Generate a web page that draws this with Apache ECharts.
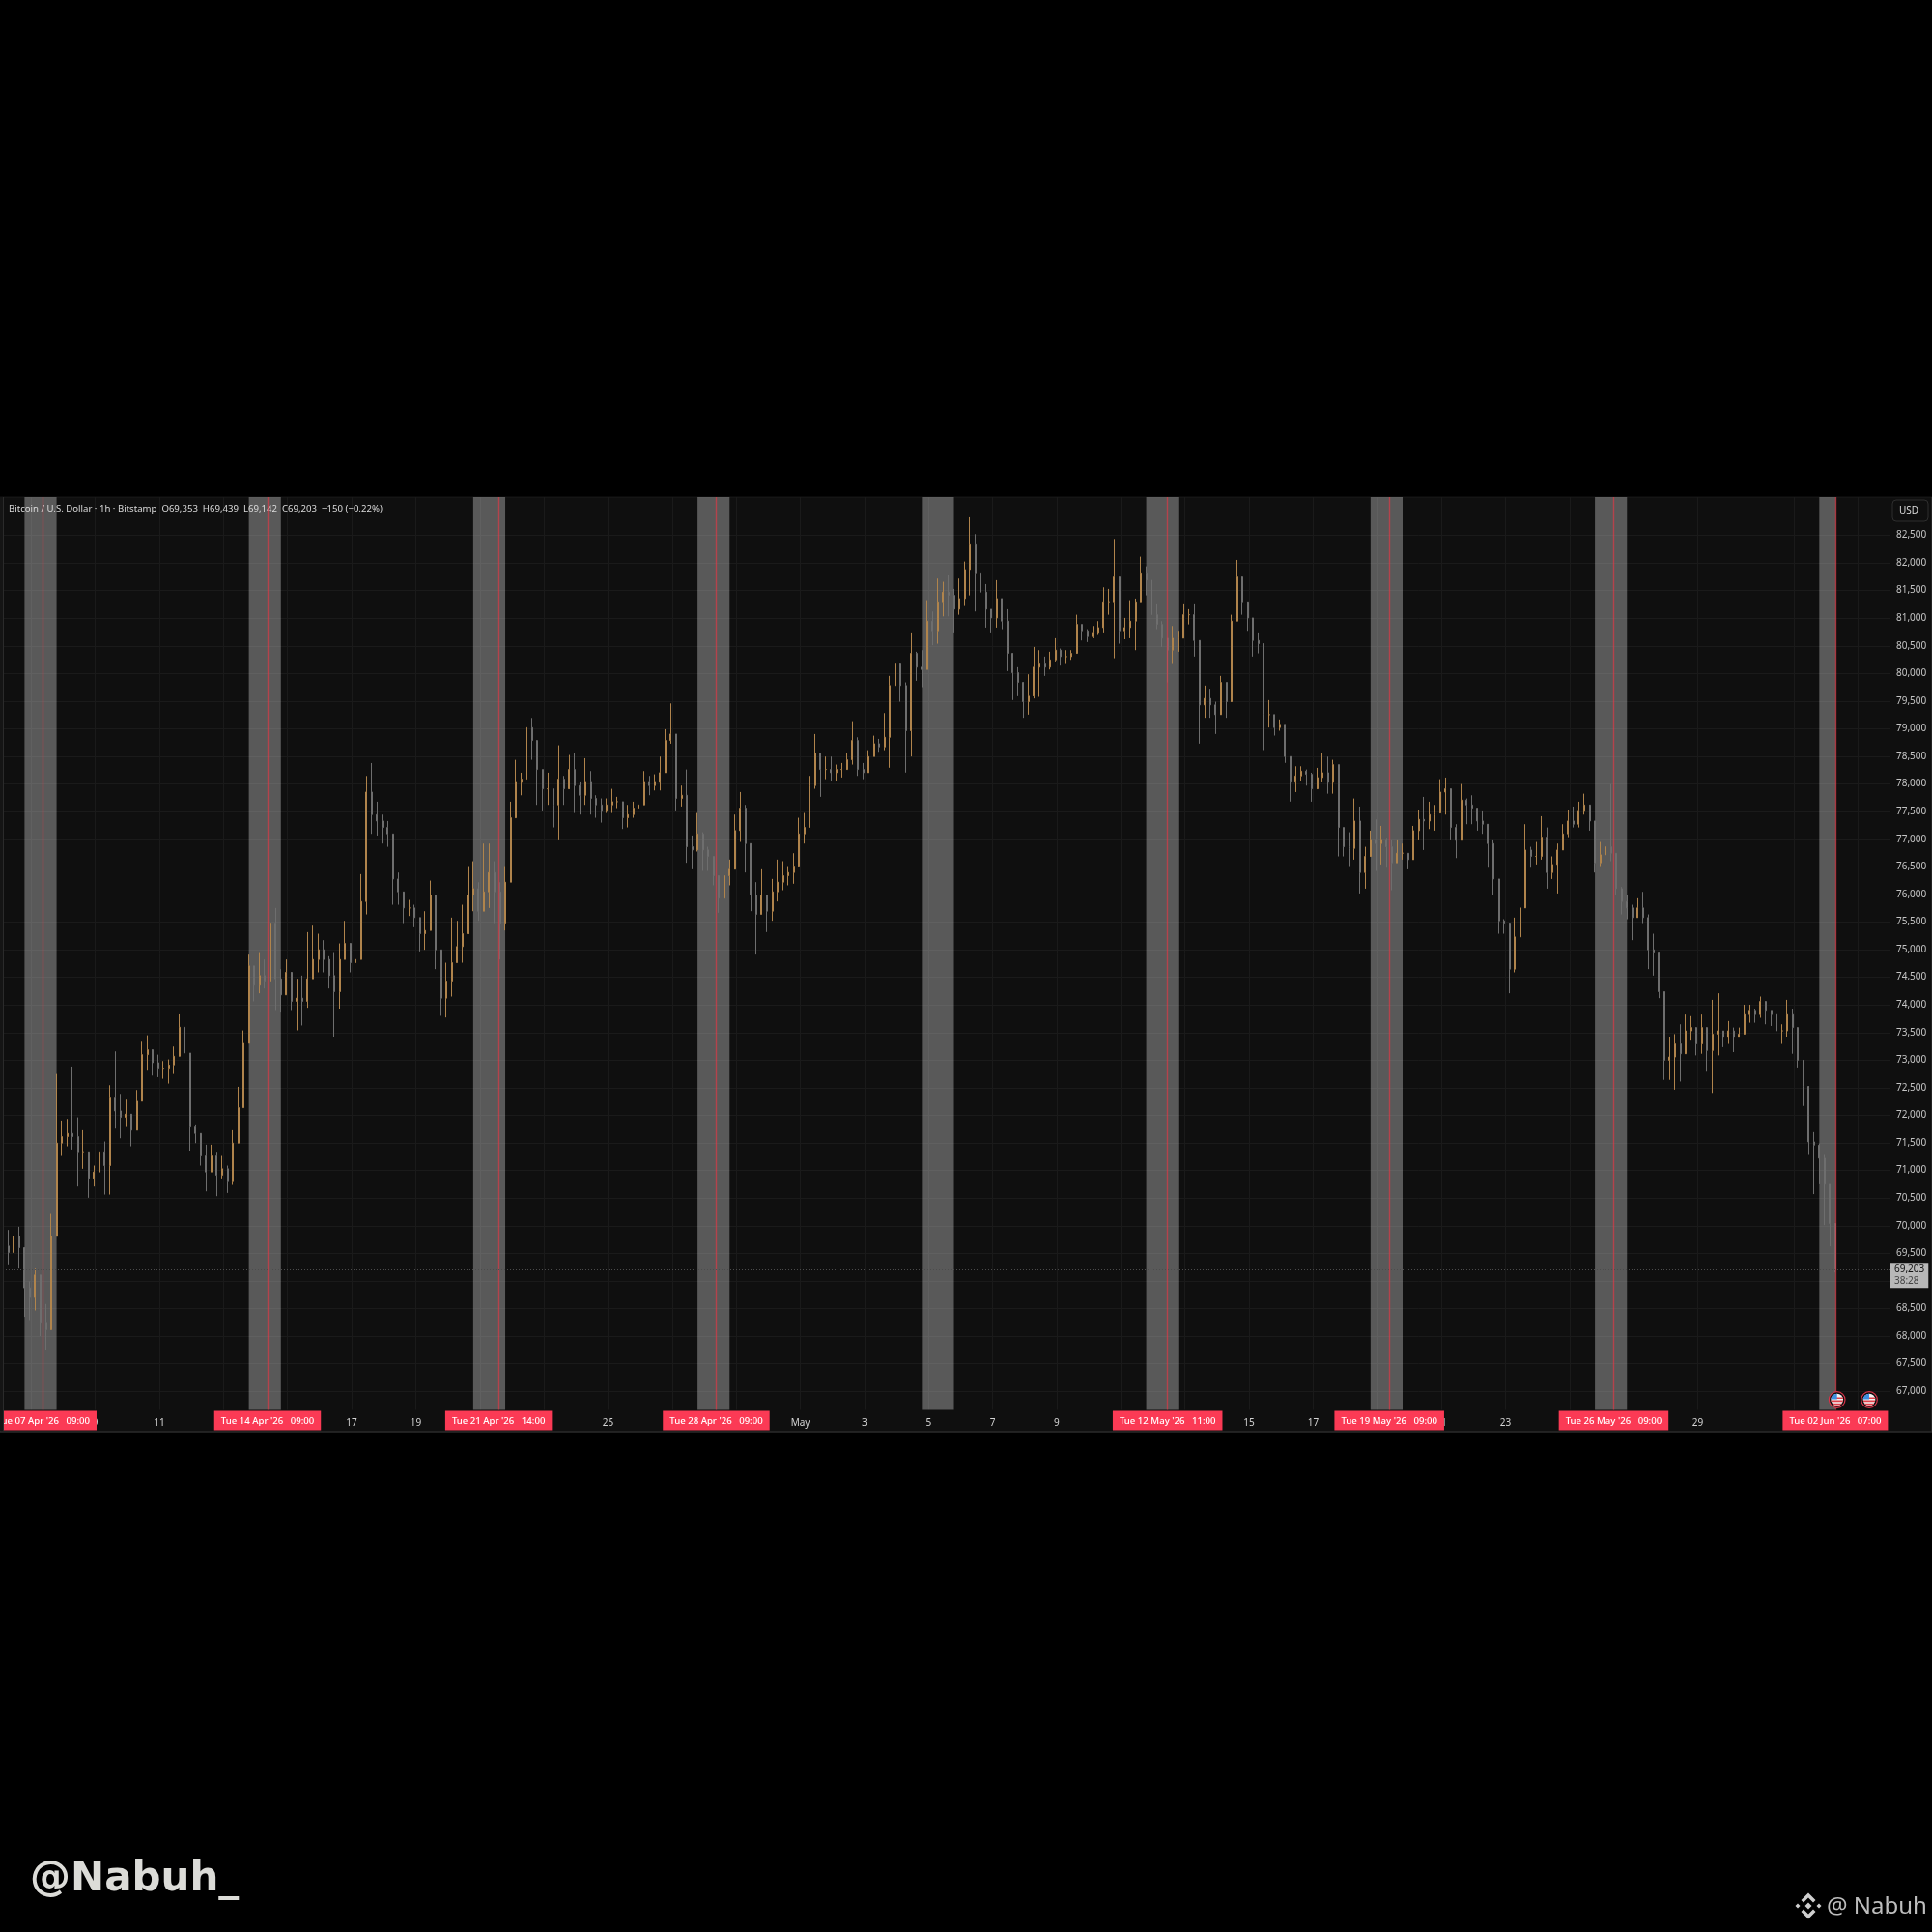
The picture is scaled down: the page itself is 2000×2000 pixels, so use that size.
<!DOCTYPE html>
<html><head><meta charset="utf-8">
<style>html,body{margin:0;background:#000}#c{width:2000px;height:2000px}</style>
<script src="https://cdn.jsdelivr.net/npm/echarts@6/dist/echarts.min.js"></script>
</head><body><div id="c"></div>
<script>
const firstOpen = 69300;
const firstBarHour = 123;   // hours since 1 Apr 00:00; 6 Apr 03:00
const barStepHours = 4;
const highs = [
70273,69923,70360,69981,69573,68990,69223,68640,68582,70214,72750,71905,71934,72867,71963,71730,71206,71089,71555,71526,
72546,73159,72371,72284,71847,72459,73333,73450,73129,73100,72984,73013,73246,73829,73596,73129,71818,71555,71468,71468,
71322,71264,71089,71730,72517,73538,
74910,74590,74939,74823,76135,75756,74648,74823,74473,74473,74531,75318,75435,75289,75173,74881,74939,75114,75522,75056,
75114,76368,78146,78379,77680,77446,77330,77097,76397,75989,75901,75814,75522,75697,76251,75522,74764,74764,75581,75522,
75814,76514,76601,76222,76922,76922,76601,76222,76514,77680,78437,78204,
79488,79196,78642,78263,78205,77913,78701,78147,78526,78555,78030,78467,78234,77797,77739,77739,77913,77768,77505,77622,
77680,77797,78234,78147,78176,78497,78992,79458,78905,77972,78263,77068,77476,77126,76864,76689,76223,76485,76631,77447,
77855,77622,76456,76223,76456,75990,76281,76631,76602,76514,76747,77389,77476,78147,78905,78555,78497,78497,78351,78380,
78555,79138,78846,78380,78613,78875,78817,79284,
79956,80626,80072,79839,80743,80393,80422,81326,81122,81734,81676,81792,81530,81734,82025,82842,82521,81705,81617,81180,
81705,81209,81180,80276,80131,79752,79985,80480,80422,80306,80393,80655,80451,80422,80422,81063,80888,80801,80859,80947,
81559,81530,82433,81734,81005,81326,81355,82113,81938,81297,81268,80947,80655,80859,80772,81268,81180,81268,80306,79781,
79723,79489,79956,79839,81063,82054,81617,81180,80976,80743,80422,79518,79169,79169,79023,78498,78321,
78321,78263,78204,78292,78554,78496,78438,78350,77213,77126,77738,77592,76863,77155,77359,77242,77009,76980,76980,76922,
76747,77242,77534,77767,77680,77621,78088,78117,77534,77272,78000,77738,77796,77475,77505,77184,76980,75989,75552,75318,
75581,75931,77272,76863,76951,77417,77213,76689,76922,77272,77534,77592,77680,77825,77446,77038,76951,77534,78000,76747,
76135,75989,75814,75931,76047,75639,75289,74648,74240,
73412,73471,73649,73826,73797,73412,73826,73530,74092,74211,73530,73708,73590,73590,74004,74004,73915,74152,74004,73885,
73885,73649,74092,73915,73264,72820,72170,71696,71489,71282,70750,69626
];
const lows = [
69078,69282,69165,69223,68349,68290,68465,67999,67737,68349,69865,71264,71439,71380,70710,71031,70506,70710,71031,70564,
70564,71759,71584,71788,71439,71905,72430,72809,72721,72692,72663,72576,72750,73246,72896,71351,71497,71089,70622,70972,
70535,70856,70593,70739,71701,72138,
73365,74065,74211,74298,74590,73890,73861,74182,73890,73540,73628,73948,74473,74590,74590,74298,73424,73919,74823,74590,
74590,75114,75639,77097,77067,76922,76863,75814,75814,75464,75610,75406,74969,74998,75522,74648,73803,73773,74152,74764,
74764,75522,75697,75522,75697,75756,75464,74823,75348,76222,77446,77796,
78671,78438,77622,77505,77622,77214,76981,77622,77972,77476,77447,77622,77447,77389,77301,77476,77476,77564,77185,77214,
77389,77389,77855,77797,77884,77884,78263,78730,77505,77593,76573,76456,76777,76427,76427,76165,75669,75873,76165,76893,
76952,76398,75698,74911,75640,75319,75523,75873,76077,76165,76194,76543,76922,77214,77914,77768,78088,78059,78059,78118,
78322,78351,78147,78088,78205,78497,78584,78613,
78294,79489,79489,78207,78498,79868,79752,80072,80510,80539,81034,81034,80743,81063,81238,81413,81122,81180,80830,80743,
80830,80801,80043,79519,79606,79198,79256,79548,79577,79956,80072,80218,80160,80189,80247,80539,80597,80568,80655,80714,
80743,81063,80276,80539,80626,80655,80422,81413,81413,80684,80801,80480,79839,80189,80393,80655,80888,80306,78731,79198,
79198,78906,79285,79198,79548,81122,81063,80772,80306,80364,78615,79023,78877,78965,78382,77682,77854,
78059,77971,77680,77971,78029,77825,77825,76689,76689,76514,76630,76018,76105,76718,76426,76543,76484,76076,76572,76630,
76455,76689,76980,76805,77184,77155,77563,77446,76980,76659,77067,77272,77272,77155,77097,76484,75989,75289,75289,74211,
74590,75289,75872,76484,76543,76630,76105,76280,76018,76834,77038,77213,77213,77446,77155,76397,76514,76484,76601,75989,
75639,75552,75173,75610,75464,74648,74531,74123,72643,
72643,72465,72613,73146,73353,73087,73116,72791,72406,73087,73235,73294,73146,73412,73530,73678,73678,73767,73649,73619,
73353,73294,73412,73116,72850,72170,71282,70572,70750,70010,69626,69152
];
const closes = [
69631,69515,69806,69602,68874,68699,69107,68232,68116,69806,71497,71614,71672,71614,71322,71322,70856,70972,71322,71089,
72313,72080,71963,72022,71730,72255,73100,73188,72954,72838,72838,72896,73071,73596,73129,71788,71672,71264,70972,71264,
70914,71031,70797,71497,72138,73304,
74706,74356,74531,74415,75464,74473,74182,74590,74065,74123,74065,74473,74823,75000,74823,74531,74240,74823,75114,74764,
74823,75872,77854,77446,77330,77213,77097,76280,76047,75756,75756,75581,75289,75348,75989,74998,74123,74415,74764,75056,
75289,75989,76105,75697,76047,76397,76047,75464,76222,77388,78029,78088,
79021,78788,78263,77913,77913,77622,78088,77913,78263,77972,77797,78030,77739,77622,77505,77622,77680,77680,77389,77447,
77564,77622,78030,77972,78030,78205,78788,78905,77739,77797,76864,76806,77097,76806,76689,76339,75931,76339,76456,77156,
77564,76922,75990,75640,75990,75698,76048,76223,76339,76398,76514,77097,77214,77972,78555,78263,78263,78205,78263,78263,
78438,78788,78263,78205,78497,78730,78671,78846,
79781,80189,79781,78965,80364,80131,80072,80947,80772,81297,81471,81413,81180,81355,81880,82346,81821,81471,81180,81005,
81355,80947,80364,80014,79839,79489,79606,80131,80189,80131,80247,80422,80305,80305,80364,80888,80772,80684,80743,80830,
81297,81297,81763,80772,80830,80947,81297,81821,81705,81063,80888,80655,80422,80655,80655,81063,81063,80597,79431,79548,
79431,79256,79839,79489,80947,81763,81297,81005,80597,80539,79256,79256,79023,79081,78498,78032,78146,
78233,78175,77913,78117,78204,78029,78350,77213,76863,76834,77330,76397,76689,76980,76922,76980,76863,76572,76747,76747,
76630,77155,77359,77330,77446,77475,77854,77913,77213,76980,77709,77621,77563,77330,77272,76922,76280,75522,75464,74648,
75231,75756,76805,76689,76689,77038,76397,76543,76805,77097,77330,77272,77505,77621,77330,76572,76718,76863,76747,76105,
75872,75756,75581,75756,75581,74998,74939,74240,72998,
73057,73294,73116,73530,73590,73294,73590,73175,73471,73530,73412,73530,73412,73471,73826,73885,73826,74063,73885,73826,
73530,73530,73826,73590,72998,72525,71519,71460,71223,70750,70040,69203
];
const priceTicks = [67000,67500,68000,68500,69000,69500,70000,70500,71000,71500,72000,72500,73000,73500,74000,74500,75000,75500,76000,76500,77000,77500,78000,78500,79000,79500,80000,80500,81000,81500,82000,82500];
const timeTickHours = [144,192,240,288,336,384,432,480,528,576,624,672,720,768,816,864,912,960,1008,1056,1104,1152,1200,1248,1296,1344,1392,1464,1512];
const timeTickLabels = ['7','9','11','13','15','17','19','21','23','25','27','29','May','3','5','7','9','11','13','15','17','19','21','23','25','27','29','Jun','3'];
const bandStarts = [139,307,475,643,811,979,1147,1315,1483];
const bandEnds   = [163,331,499,667,835,1003,1171,1339,1495.5];
const eventHours = [153,321,494,657,995,1161,1329,1495];
const eventLabels = ["Tue 07 Apr '26   09:00","Tue 14 Apr '26   09:00","Tue 21 Apr '26   14:00","Tue 28 Apr '26   09:00","Tue 12 May '26   11:00","Tue 19 May '26   09:00","Tue 26 May '26   09:00","Tue 02 Jun '26   07:00"];
const flagHours = [1496.3,1520.4];
const lastPrice = 69203;
const lastPriceTagAnchor = 69098;
const header = "Bitcoin / U.S. Dollar · 1h · Bitstamp  O69,353  H69,439  L69,142  C69,203  −150 (−0.22%)";
const FONT = '"Noto Sans"';

let prev = firstOpen;
const candles = closes.map((c,i)=>{
  const row=[firstBarHour+i*barStepHours,prev,c,lows[i],highs[i]];
  prev=c; return row;
});
const tickLabelOf = {}; timeTickHours.forEach((h,i)=>tickLabelOf[h]=timeTickLabels[i]);

const chart = echarts.init(document.getElementById('c'),null,{renderer:'canvas',width:2000,height:2000});
const GRID='#1a1a1a';
chart.setOption({
  animation:false,
  backgroundColor:'#000',
  title:{text:header,left:9,top:522.5,z:1,padding:0,textStyle:{color:'#dadada',fontSize:9.6,fontWeight:'normal',fontFamily:FONT}},
  grid:{left:3,top:515,width:1954,height:944.5,containLabel:false},
  xAxis:{type:'value',min:122.8,max:1536.3,
    axisLine:{show:false},
    axisTick:{show:false,customValues:timeTickHours},
    splitLine:{show:true,lineStyle:{color:GRID,width:1}},
    axisLabel:{customValues:timeTickHours,margin:8.5,color:'#d4d4d4',fontSize:10,fontFamily:FONT,hideOverlap:false,
      formatter:v=>tickLabelOf[v]||''}},
  yAxis:{type:'value',position:'right',min:66662,max:83191,scale:true,
    axisLine:{show:false},
    axisTick:{show:false,customValues:priceTicks},
    splitLine:{show:true,lineStyle:{color:GRID,width:1}},
    axisLabel:{customValues:priceTicks,margin:6,padding:[4,0,0,0],color:'#c4c4c4',fontSize:10,fontFamily:FONT,
      formatter:v=>v.toLocaleString('en-US')}},
  series:[
    {type:'candlestick',name:'BTCUSD',z:2,barWidth:1.5,data:candles,encode:{x:0,y:[1,2,3,4]},
      itemStyle:{color:'#b0844c',color0:'#6e6e6e',borderColor:'#b0844c',borderColor0:'#6e6e6e',borderWidth:1}},
    {type:'line',name:'sessions',z:5,data:[],silent:true,
      markArea:{silent:true,itemStyle:{color:'rgba(255,255,255,0.31)'},
        data:bandStarts.map((s,i)=>[{xAxis:s},{xAxis:bandEnds[i]}])}},
    {type:'line',name:'events',z:6,data:[],silent:true,
      markLine:{silent:true,symbol:'none',animation:false,precision:2,
        lineStyle:{color:'rgba(242,54,69,0.6)',width:1.4,type:'solid'},
        label:{show:true,position:'start',distance:1,formatter:p=>p.name,color:'#fff',fontSize:9.6,fontWeight:500,fontFamily:FONT,
          backgroundColor:'#fb3a55',padding:[6,7,4,7]},
        data:eventHours.map((h,i)=>({xAxis:h,name:eventLabels[i]}))}},
    {type:'line',name:'last',z:6,data:[],silent:true,
      markLine:{silent:true,symbol:'none',animation:false,precision:0,
        lineStyle:{color:'#4c4c4c',width:1,type:[1,2]},
        label:{show:false},
        data:[{yAxis:lastPrice}]}},
    {type:'line',name:'lastTag',z:8,data:[],silent:true,
      markLine:{silent:true,symbol:'none',animation:false,precision:0,
        lineStyle:{color:'rgba(0,0,0,0)',width:1},
        label:{show:true,position:'end',distance:0,formatter:'{a|69,203}\n{b|38:28}',backgroundColor:'#b8b8b8',padding:[1,4,1,4],
            rich:{a:{color:'#111',fontSize:10,lineHeight:12,fontFamily:FONT},b:{color:'#444',fontSize:10,lineHeight:12,fontFamily:FONT}}},
        data:[{yAxis:lastPriceTagAnchor}]}},
    {type:'custom',name:'flags',z:7,silent:true,clip:false,
      data:flagHours.map(h=>[h,66846]),encode:{x:0,y:1},
      renderItem:(params,api)=>{
        const [cx,cy]=api.coord([api.value(0),api.value(1)]);
        const clip={type:'circle',shape:{cx,cy,r:6.3}};
        const stripes=[-2.6,0.6,3.8].map(dy=>({type:'rect',shape:{x:cx-7,y:cy+dy,width:14,height:1.6},style:{fill:'#e0404a'},clipPath:clip}));
        return {type:'group',children:[
          {type:'circle',shape:{cx,cy,r:8.3},style:{fill:'#0f0f0f',stroke:'#d9344a',lineWidth:1.2}},
          {type:'circle',shape:{cx,cy,r:6.3},style:{fill:'#f2f2f2'}},
          ...stripes,
          {type:'rect',shape:{x:cx-7,y:cy-7,width:7,height:6.6},style:{fill:'#3d8fe0'},clipPath:clip}
        ]};
      }}
  ],
  graphic:{elements:[
    {type:'rect',z:-10,zlevel:0,silent:true,shape:{x:0,y:514.5,width:2000,height:967.5},style:{fill:'#0f0f0f',stroke:'#2b2b2b',lineWidth:1.5}},
    {type:'rect',z:50,silent:true,shape:{x:0,y:515,width:3,height:966},style:{fill:'#151515'}},
    {type:'rect',z:51,silent:true,shape:{x:3,y:515,width:1,height:966},style:{fill:'#2b2b2b'}},
    {type:'rect',z:50,silent:true,shape:{x:1959,y:518,width:37,height:21,r:4},style:{fill:'#0f0f0f',stroke:'#2e2e2e',lineWidth:1}},
    {type:'text',z:51,silent:true,style:{x:1976,y:529.5,text:'USD',fill:'#dcdcdc',font:'10px "Noto Sans"',textAlign:'center',textVerticalAlign:'middle'}},
    {type:'text',z:51,silent:true,style:{x:31,y:1946,text:'@Nabuh_',fill:'#dcdcd8',font:'bold 42px "DejaVu Sans"',textAlign:'left',textVerticalAlign:'middle'}},
    {type:'text',z:51,silent:true,style:{x:1891,y:1974,text:'@ Nabuh',fill:'#bdbdbd',font:'24px "Noto Sans"',textAlign:'left',textVerticalAlign:'middle'}},
    {type:'group',z:51,silent:true,x:1872,y:1973,children:[
      {type:'polygon',shape:{points:[[0,-3.5],[3.5,0],[0,3.5],[-3.5,0]]},style:{fill:'#cfcfcf'}},
      {type:'polygon',shape:{points:[[-13.5,0],[-11,-2.5],[-8.5,0],[-11,2.5]]},style:{fill:'#cfcfcf'}},
      {type:'polygon',shape:{points:[[13.5,0],[11,-2.5],[8.5,0],[11,2.5]]},style:{fill:'#cfcfcf'}},
      {type:'polygon',shape:{points:[[0,-13.5],[7.5,-6],[5,-3.5],[0,-8.5],[-5,-3.5],[-7.5,-6]]},style:{fill:'#cfcfcf'}},
      {type:'polygon',shape:{points:[[0,13.5],[7.5,6],[5,3.5],[0,8.5],[-5,3.5],[-7.5,6]]},style:{fill:'#cfcfcf'}}
    ]}
  ]}
});
</script></body></html>
